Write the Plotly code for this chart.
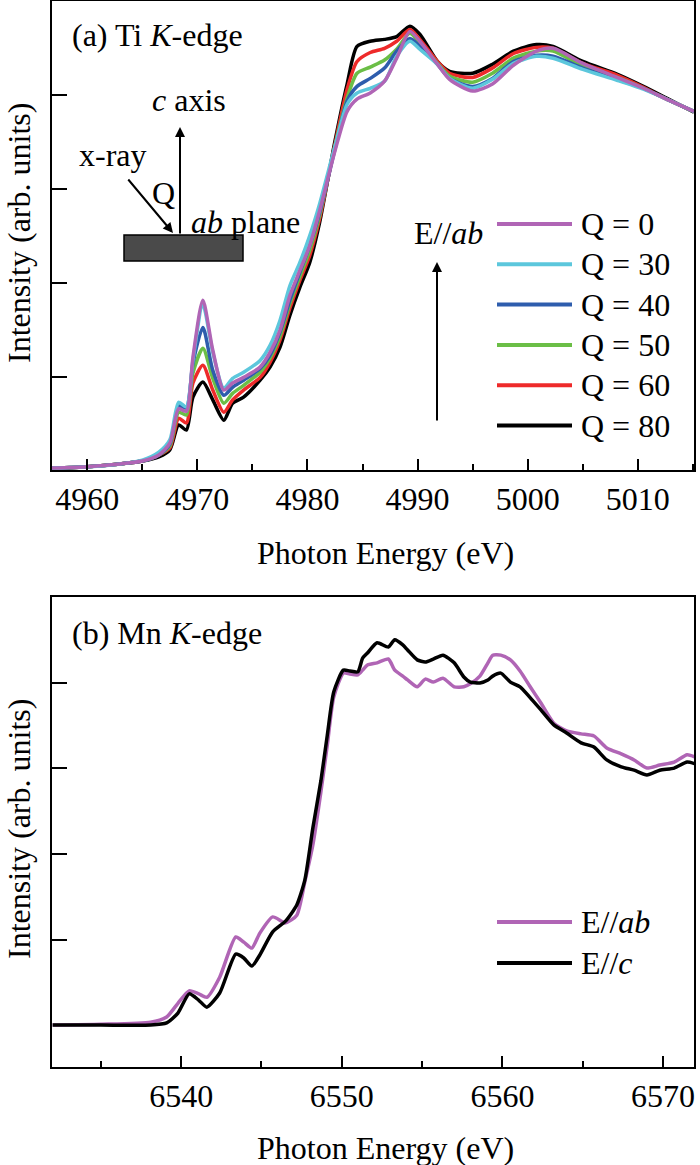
import plotly.graph_objects as go

# ---------------- data: panel (a) Ti K-edge ----------------
energy_ti = [4956.8, 4960.0, 4963.0, 4965.0, 4966.5, 4967.5, 4968.3, 4969.0, 4969.6, 4970.5,
             4971.4, 4972.4, 4973.2, 4974.2, 4975.7, 4976.6, 4977.5, 4978.4, 4979.3, 4980.2,
             4981.1, 4982.5, 4983.6, 4984.5, 4985.7, 4987.0, 4988.1, 4989.3, 4990.2, 4991.8,
             4992.9, 4995.0, 4996.8, 4998.7, 5000.8, 5002.3, 5005.0, 5008.1, 5010.5, 5012.6, 5015.1]

ti_q0 = [0.007, 0.010, 0.016, 0.022, 0.035, 0.060, 0.133, 0.128, 0.243, 0.364,
         0.258, 0.173, 0.188, 0.200, 0.222, 0.253, 0.300, 0.374, 0.427, 0.480,
         0.554, 0.682, 0.766, 0.792, 0.805, 0.830, 0.879, 0.936, 0.915, 0.866,
         0.834, 0.809, 0.824, 0.864, 0.894, 0.900, 0.868, 0.838, 0.815, 0.792, 0.766]
ti_q30 = [0.007, 0.010, 0.016, 0.024, 0.041, 0.067, 0.147, 0.137, 0.236, 0.355,
          0.253, 0.177, 0.198, 0.211, 0.236, 0.268, 0.321, 0.395, 0.444, 0.501,
          0.569, 0.692, 0.781, 0.805, 0.815, 0.830, 0.883, 0.915, 0.898, 0.866,
          0.836, 0.815, 0.834, 0.868, 0.883, 0.879, 0.855, 0.832, 0.813, 0.792, 0.766]
ti_q40 = [0.007, 0.010, 0.016, 0.022, 0.035, 0.058, 0.139, 0.135, 0.230, 0.306,
          0.215, 0.162, 0.179, 0.194, 0.219, 0.247, 0.296, 0.364, 0.423, 0.480,
          0.550, 0.686, 0.788, 0.819, 0.836, 0.858, 0.894, 0.921, 0.904, 0.866,
          0.836, 0.819, 0.836, 0.872, 0.885, 0.883, 0.858, 0.834, 0.815, 0.792, 0.766]
ti_q50 = [0.007, 0.010, 0.016, 0.022, 0.035, 0.054, 0.126, 0.120, 0.209, 0.262,
          0.198, 0.145, 0.166, 0.183, 0.211, 0.241, 0.287, 0.357, 0.414, 0.470,
          0.544, 0.692, 0.794, 0.847, 0.860, 0.875, 0.898, 0.932, 0.911, 0.868,
          0.841, 0.828, 0.847, 0.879, 0.894, 0.894, 0.862, 0.838, 0.815, 0.792, 0.766]
ti_q60 = [0.007, 0.010, 0.016, 0.022, 0.035, 0.050, 0.113, 0.103, 0.188, 0.226,
          0.173, 0.126, 0.152, 0.173, 0.200, 0.232, 0.279, 0.347, 0.406, 0.459,
          0.537, 0.696, 0.813, 0.872, 0.891, 0.900, 0.915, 0.940, 0.919, 0.872,
          0.847, 0.838, 0.858, 0.889, 0.902, 0.900, 0.868, 0.843, 0.817, 0.792, 0.766]
ti_q80 = [0.005, 0.010, 0.016, 0.022, 0.031, 0.046, 0.099, 0.088, 0.158, 0.190,
          0.152, 0.109, 0.145, 0.158, 0.194, 0.222, 0.264, 0.332, 0.391, 0.444,
          0.529, 0.703, 0.824, 0.904, 0.915, 0.919, 0.925, 0.947, 0.930, 0.872,
          0.851, 0.847, 0.866, 0.894, 0.908, 0.904, 0.872, 0.845, 0.819, 0.794, 0.764]

ti_labels = ["Q = 0", "Q = 30", "Q = 40", "Q = 50", "Q = 60", "Q = 80"]
ti_colors = ["#B065B5", "#5CC7DC", "#2E5DAD", "#6BBE46", "#EE2A2A", "#000000"]

# ---------------- data: panel (b) Mn K-edge ----------------
energy_mn = [6532.0, 6535.0, 6538.1, 6539.1, 6539.8, 6540.5, 6541.1, 6541.6, 6542.4, 6543.4,
             6543.9, 6544.4, 6544.9, 6545.7, 6546.5, 6547.2, 6547.7, 6548.2, 6548.7, 6549.1,
             6549.5, 6550.1, 6550.5, 6551.0, 6551.3, 6551.6, 6552.2, 6552.9, 6553.3, 6553.8,
             6554.1, 6554.7, 6555.2, 6555.7, 6556.3, 6557.0, 6557.6, 6558.0, 6558.6, 6559.1,
             6559.4, 6559.9, 6560.5, 6561.1, 6561.7, 6562.4, 6563.2, 6564.0, 6564.9, 6565.7,
             6566.5, 6567.4, 6568.2, 6569.0, 6569.8, 6570.7, 6571.5, 6572.0]
mn_ab = [0.000, 0.002, 0.007, 0.019, 0.051, 0.080, 0.073, 0.065, 0.112, 0.206,
         0.194, 0.180, 0.215, 0.253, 0.239, 0.257, 0.335, 0.421, 0.545, 0.655,
         0.767, 0.823, 0.821, 0.819, 0.830, 0.842, 0.847, 0.856, 0.830, 0.816,
         0.807, 0.791, 0.809, 0.802, 0.811, 0.791, 0.791, 0.798, 0.816, 0.847,
         0.865, 0.865, 0.854, 0.828, 0.793, 0.753, 0.706, 0.688, 0.681, 0.676,
         0.648, 0.634, 0.620, 0.601, 0.608, 0.615, 0.632, 0.627]
mn_c = [0.000, 0.000, 0.000, 0.005, 0.028, 0.073, 0.058, 0.042, 0.075, 0.166,
        0.157, 0.138, 0.164, 0.218, 0.243, 0.281, 0.339, 0.461, 0.571, 0.678,
        0.779, 0.830, 0.828, 0.826, 0.858, 0.870, 0.894, 0.884, 0.901, 0.889,
        0.877, 0.854, 0.849, 0.856, 0.865, 0.847, 0.814, 0.802, 0.800, 0.807,
        0.816, 0.823, 0.802, 0.791, 0.767, 0.737, 0.702, 0.683, 0.660, 0.650,
        0.620, 0.604, 0.596, 0.585, 0.596, 0.601, 0.615, 0.611]
mn_labels = ["E//<i>ab</i>", "E//<i>c</i>"]
mn_colors = ["#B065B5", "#000000"]

x_title = "Photon Energy (eV)"
y_title = "Intensity (arb. units)"

FONT = "Liberation Serif"
W, H = 700, 1165
L, R = 52, 6
PW = W - L - R


def px(x):
    return (x - L) / PW


def py(y):
    return 1 - y / H


fig = go.Figure()

ti_series = [ti_q0, ti_q30, ti_q40, ti_q50, ti_q60, ti_q80]
for i in reversed(range(len(ti_series))):
    fig.add_trace(go.Scatter(x=energy_ti, y=ti_series[i], mode="lines", name=ti_labels[i],
                             line=dict(color=ti_colors[i], width=3.5, shape="spline", smoothing=0.7),
                             xaxis="x", yaxis="y", showlegend=False))

mn_series = [mn_ab, mn_c]
for i in range(len(mn_series)):
    fig.add_trace(go.Scatter(x=energy_mn, y=mn_series[i], mode="lines", name=mn_labels[i],
                             line=dict(color=mn_colors[i], width=3.5, shape="spline", smoothing=0.6),
                             xaxis="x2", yaxis="y2", showlegend=False))

axfont = dict(family=FONT, size=32, color="black")
xcommon = dict(showline=True, linewidth=2, linecolor="black", mirror=True,
               ticks="inside", ticklen=11, tickwidth=2, tickcolor="black",
               showgrid=False, zeroline=False, dtick=10, tickfont=axfont,
               minor=dict(ticks="inside", ticklen=6, tickwidth=2, dtick=5,
                          tickcolor="black", showgrid=False))
ycommon = dict(showline=True, linewidth=2, linecolor="black", mirror=True,
               ticks="inside", ticklen=15, tickwidth=2, tickcolor="black",
               showgrid=False, zeroline=False, showticklabels=False,
               tickvals=[0.2, 0.4, 0.6, 0.8])

top_dom = [py(470), py(1.3)]
bot_dom = [py(1067), py(597)]

fig.update_layout(
    width=W, height=H,
    margin=dict(l=L, r=R, t=0, b=0),
    paper_bgcolor="white", plot_bgcolor="white",
    font=dict(family=FONT, color="black"),
    showlegend=False,
    xaxis=dict(xcommon, range=[4956.8, 5015.1], domain=[0, 1], anchor="y"),
    yaxis=dict(ycommon, range=[0.003, 1.0], domain=top_dom, anchor="x"),
    xaxis2=dict(xcommon, range=[6531.96, 6571.93], domain=[0, 1], anchor="y2"),
    yaxis2=dict(ycommon, range=[-0.098, 1.001], domain=bot_dom, anchor="x2"),
)

txt = dict(family=FONT, size=32, color="black")
ann = []
shapes = []


def label(text, x, y, xanchor="center", angle=0):
    ann.append(dict(text=text, x=px(x), y=py(y), xref="paper", yref="paper",
                    xanchor=xanchor, yanchor="middle", showarrow=False, font=txt,
                    textangle=angle))


# axis titles
label(x_title, 386, 553)
label(x_title, 386, 1148)
label(y_title, 19, 233, angle=-90)
label(y_title, 19, 829, angle=-90)

# panel labels
label("(a) Ti <i>K</i>-edge", 70, 35, "left")
label("(b) Mn <i>K</i>-edge", 70, 633, "left")

# inset schematic (panel a)
shapes.append(dict(type="rect", xref="paper", yref="paper", x0=px(124), x1=px(243),
                   y0=py(261), y1=py(235), fillcolor="#4A4A4A", line=dict(color="black", width=1.5)))
ann.append(dict(x=px(180), y=py(127), ax=0, ay=108, xref="paper", yref="paper",
                text="", showarrow=True, arrowhead=2,
                arrowsize=1, arrowwidth=2, arrowcolor="black"))
ann.append(dict(x=px(173), y=py(233), ax=-46, ay=-55, xref="paper", yref="paper",
                text="", showarrow=True, arrowhead=2, arrowsize=1, arrowwidth=2, arrowcolor="black"))
label("<i>c</i> axis", 189, 100)
label("x-ray", 113, 155)
label("Q", 163, 193)
label("<i>ab</i> plane", 189, 222, "left")

# E//ab arrow
label("E//<i>ab</i>", 448, 233)
ann.append(dict(x=px(437), y=py(262), ax=0, ay=160, xref="paper", yref="paper",
                text="", showarrow=True, arrowhead=2, arrowsize=1, arrowwidth=2, arrowcolor="black"))

# legend (panel a)
for i, lab in enumerate(ti_labels):
    yy = 224 + 40.3 * i
    shapes.append(dict(type="line", xref="paper", yref="paper", x0=px(497), x1=px(572),
                       y0=py(yy), y1=py(yy), line=dict(color=ti_colors[i], width=4)))
    label(lab, 579, yy, "left")

# legend (panel b)
for i, lab in enumerate(mn_labels):
    yy = 922 + 41 * i
    shapes.append(dict(type="line", xref="paper", yref="paper", x0=px(497), x1=px(572),
                       y0=py(yy), y1=py(yy), line=dict(color=mn_colors[i], width=4)))
    label(lab, 579, yy, "left")

fig.update_layout(annotations=ann, shapes=shapes)
fig.write_html("out.html")
